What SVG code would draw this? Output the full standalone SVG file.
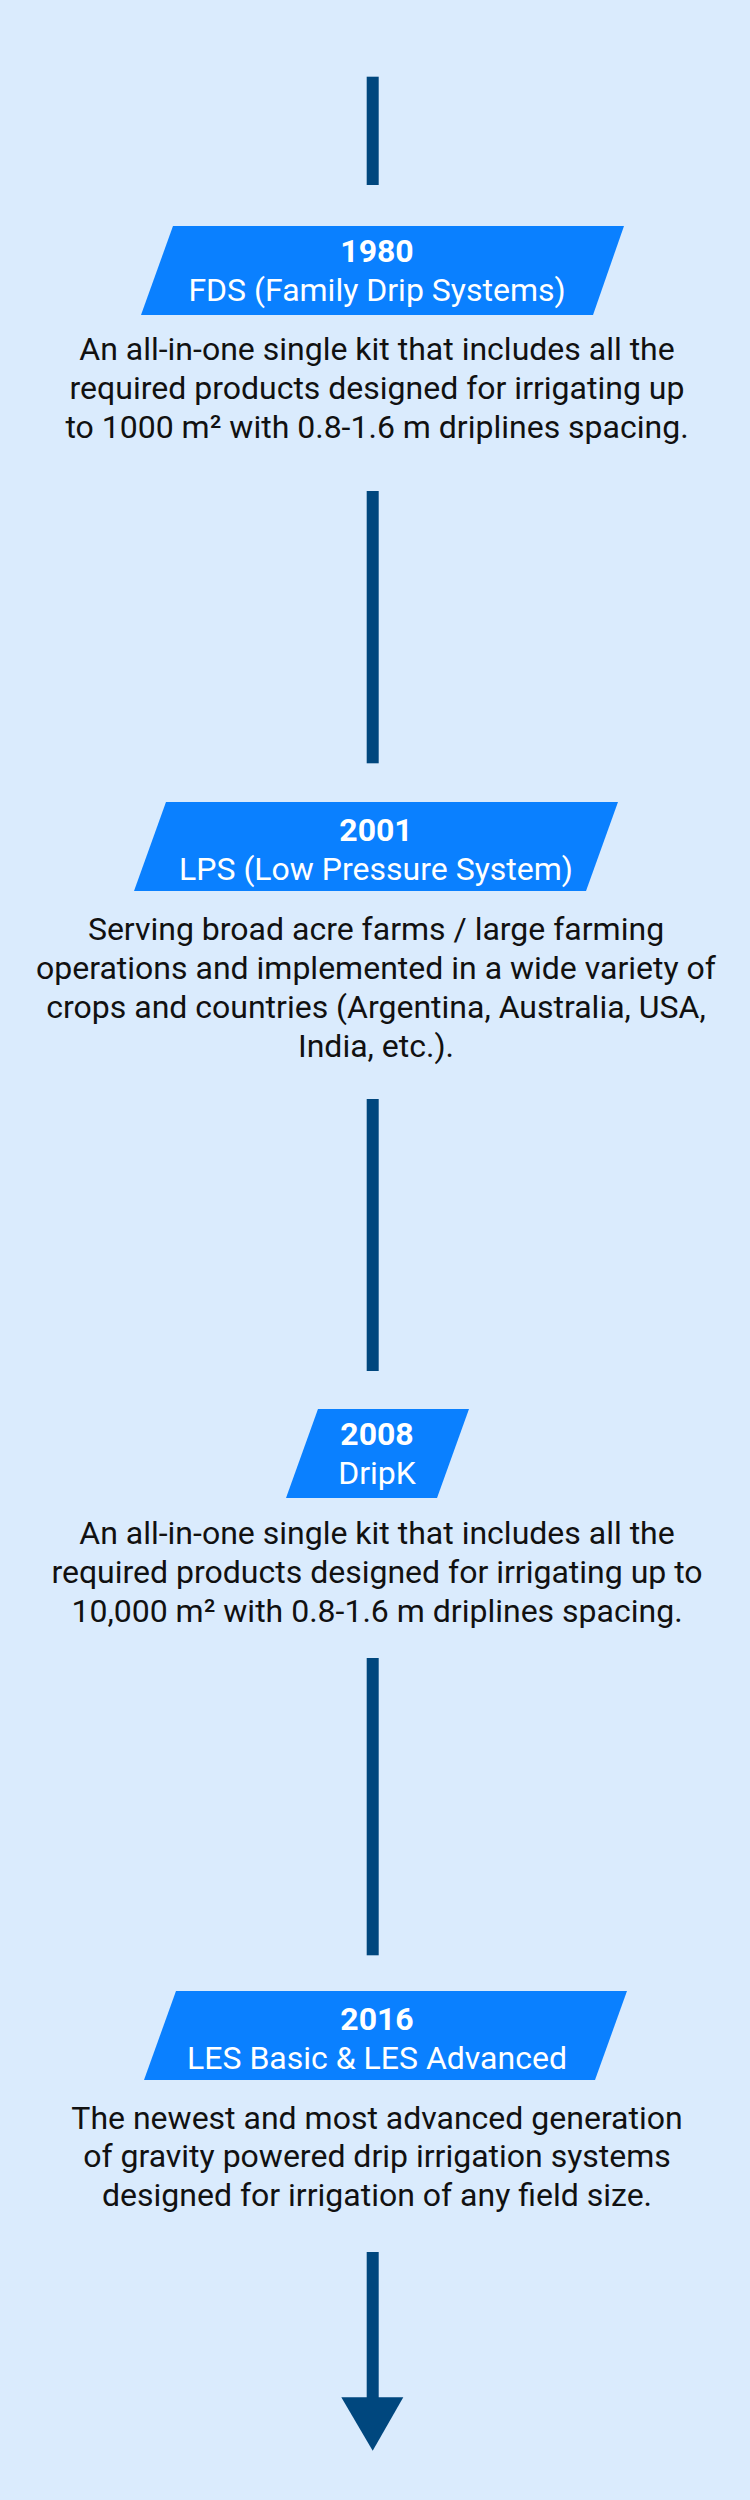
<svg xmlns="http://www.w3.org/2000/svg" width="750" height="2500" viewBox="0 0 750 2500">
<style>
.bg{fill:#DAEBFD}
.tag{fill:#0A80FF}
.yr{font-family:Roboto,"Liberation Sans",sans-serif;font-size:32px;font-weight:700;fill:#FFFFFF;text-anchor:middle}
.nm{font-family:Roboto,"Liberation Sans",sans-serif;font-size:32px;font-weight:400;fill:#FFFFFF;text-anchor:middle}
.body{font-family:Roboto,"Liberation Sans",sans-serif;font-size:32px;font-weight:400;fill:#111111;text-anchor:middle}
.conn{fill:#00477E}
</style>
<rect class="bg" x="0" y="0" width="750" height="2500"/>
<g id="connectors">
<rect class="conn" x="366.7" y="76.7" width="12" height="108.3"/>
<rect class="conn" x="366.7" y="491" width="12" height="272.3"/>
<rect class="conn" x="366.7" y="1099" width="12" height="272"/>
<rect class="conn" x="366.7" y="1658" width="12" height="297.3"/>
<rect class="conn" x="366.7" y="2252" width="12" height="146"/>
<polygon class="conn" points="341.3,2397.3 403.3,2397.3 372.7,2450.7"/>
</g>
<g id="node-1980">
<polygon class="tag" points="173,226 624,226 593,315 141,315"/>
<text class="yr" x="377" y="262">1980</text>
<text class="nm" x="377" y="301">FDS (Family Drip Systems)</text>
<text class="body" x="377" y="360">An all-in-one single kit that includes all the</text>
<text class="body" x="377" y="399">required products designed for irrigating up</text>
<text class="body" x="377" y="438">to 1000 m² with 0.8-1.6 m driplines spacing.</text>
</g>
<g id="node-2001">
<polygon class="tag" points="166,802 618,802 586,891 134,891"/>
<text class="yr" x="376" y="841">2001</text>
<text class="nm" x="376" y="879.5">LPS (Low Pressure System)</text>
<text class="body" x="376" y="939.5">Serving broad acre farms / large farming</text>
<text class="body" x="376" y="978.5">operations and implemented in a wide variety of</text>
<text class="body" x="376" y="1017.5">crops and countries (Argentina, Australia, USA,</text>
<text class="body" x="376" y="1056.5">India, etc.).</text>
</g>
<g id="node-2008">
<polygon class="tag" points="318,1409 469,1409 437,1498 286,1498"/>
<text class="yr" x="377" y="1444.5">2008</text>
<text class="nm" x="377" y="1484">DripK</text>
<text class="body" x="377" y="1544">An all-in-one single kit that includes all the</text>
<text class="body" x="377" y="1583">required products designed for irrigating up to</text>
<text class="body" x="377" y="1621.5">10,000 m² with 0.8-1.6 m driplines spacing.</text>
</g>
<g id="node-2016">
<polygon class="tag" points="176,1991 627,1991 595,2080 144,2080"/>
<text class="yr" x="377" y="2029.5">2016</text>
<text class="nm" x="377" y="2068.5">LES Basic &amp; LES Advanced</text>
<text class="body" x="377" y="2128.5">The newest and most advanced generation</text>
<text class="body" x="377" y="2167">of gravity powered drip irrigation systems</text>
<text class="body" x="377" y="2206">designed for irrigation of any field size.</text>
</g>
</svg>
